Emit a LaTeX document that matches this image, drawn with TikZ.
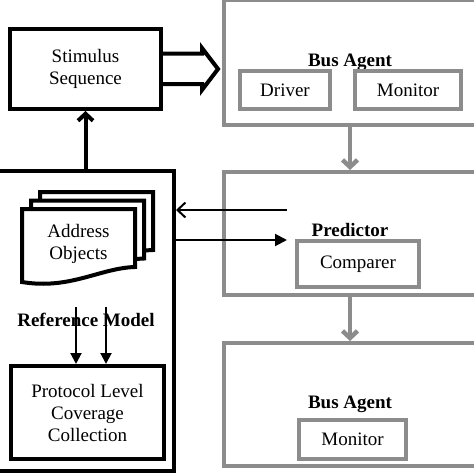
\documentclass[tikz,border=0pt]{standalone}
\usepackage{fontspec}
\setmainfont{Liberation Serif}
\usetikzlibrary{arrows.meta}
\definecolor{agentgray}{RGB}{140,140,140}
\newcommand\diafont{\fontsize{19}{22}\selectfont}

\begin{document}
\begin{tikzpicture}[x=1pt,y=-1pt,font=\diafont,
 blk/.style={draw=black,line width=4pt,align=center,inner sep=0pt},
 gbox/.style={draw=agentgray,line width=4pt,align=center,inner sep=0pt},
 lbl/.style={anchor=base,font=\diafont\bfseries},
 sheet/.style={draw=black,line width=4pt,fill=white},
 garrow/.style={draw=agentgray,line width=4.5pt,-{Straight Barb[length=7pt,width=15pt]}},
 thin/.style={line width=2pt}]
\useasboundingbox (0,0) rectangle (474,474);
\clip (0,0) rectangle (474,474);
\node[blk,minimum width=151pt,minimum height=80pt] (stim) at (85.5,69) {Stimulus\\Sequence};
\node[gbox,minimum width=266pt,minimum height=125pt] (busA) at (357,62.5) {};
\node[lbl] (busAlbl) at (350,66) {Bus Agent};
\node[gbox,minimum width=90pt,minimum height=38pt] (drv) at (285,90) {Driver};
\node[gbox,minimum width=106pt,minimum height=38pt] (monA) at (408,90) {Monitor};
\node[gbox,minimum width=266pt,minimum height=123pt] (pred) at (357,233.5) {};
\node[lbl] (predlbl) at (350,236) {Predictor};
\node[gbox,minimum width=122pt,minimum height=46pt] (cmp) at (358,264) {Comparer};
\node[gbox,minimum width=266pt,minimum height=123pt] (busB) at (357,404.5) {};
\node[lbl] (busBlbl) at (350,408) {Bus Agent};
\node[gbox,minimum width=107pt,minimum height=39pt] (monB) at (352.5,439.5) {Monitor};
\node[blk,minimum width=179pt,minimum height=299.5pt] (ref) at (84.5,320.75) {};
\foreach \d in {2,1,0}
  \draw[sheet,shift={(9*\d,-8.5*\d)}] (22,282) -- (22,209) -- (135,209) -- (135,267) .. controls (100,268) and (70,290) .. (22,282) -- cycle;
\node[align=center] (addr) at (78.5,243.5) {Address\\Objects};
\node[lbl] (reflbl) at (86,326) {Reference Model};
\node[blk,minimum width=153pt,minimum height=93pt] (cov) at (87.5,412.5) {Protocol Level\\Coverage\\Collection};
\draw[line width=4pt,-{Straight Barb[length=7pt,width=15pt]}] (ref.north -| stim.south) -- (stim.south);
\draw[line width=4pt] (stim.east |- 0,53.5) -- (202,53.5) -- (202,48) -- (218,69) -- (202,90) -- (202,84) -- (stim.east |- 0,84);
\draw[garrow] (busAlbl |- busA.south) -- (busAlbl |- pred.north);
\draw[garrow] (predlbl |- pred.south) -- (predlbl |- busB.north);
\coordinate (predout) at (287,210);
\coordinate (predin) at (287,240);
\draw[thin,-{Straight Barb[length=8pt,width=15pt]}] (predout) -- (predout -| ref.east);
\draw[thin,-{Triangle[length=12pt,width=12pt]}] (predin -| ref.east) -- (predin);
\coordinate (covinA) at (76,307);
\coordinate (covinB) at (106,307);
\draw[thin,-{Triangle[length=11pt,width=11pt]}] (covinA) -- (covinA |- cov.north);
\draw[thin,-{Triangle[length=11pt,width=11pt]}] (covinB) -- (covinB |- cov.north);
\end{tikzpicture}
\end{document}
